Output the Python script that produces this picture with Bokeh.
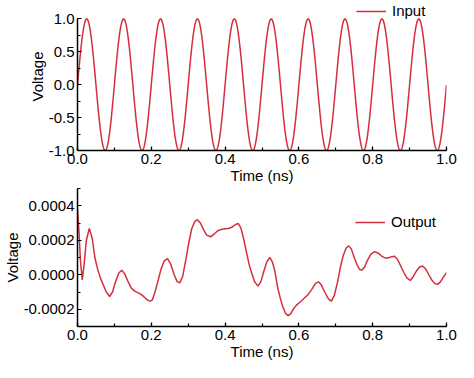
import numpy as np
from bokeh.plotting import figure
from bokeh.models import (Range1d, SingleIntervalTicker, PrintfTickFormatter,
                          Legend, LegendItem)
from bokeh.layouts import column
from bokeh.embed import file_html
from bokeh.resources import INLINE

# ---- data ----
# Input: a pure sine wave (read: amplitude 1.0 V, 10 periods per ns)
input_amplitude = 1.0
input_freq_ghz = 10.0
input_t = np.linspace(0.0, 1.0, 1201)

# Output: values (time in ns, voltage in 1e-4 V)
out_t = [0.000, 0.004, 0.008, 0.013, 0.018, 0.024, 0.032, 0.040, 0.047, 0.054,
         0.062, 0.070, 0.078, 0.087, 0.095, 0.103, 0.112, 0.120, 0.128, 0.136,
         0.145, 0.155, 0.165, 0.175, 0.185, 0.192, 0.197, 0.203, 0.210, 0.218,
         0.226, 0.235, 0.244, 0.252, 0.262, 0.270, 0.277, 0.285, 0.293, 0.302,
         0.310, 0.318, 0.325, 0.333, 0.342, 0.350, 0.361, 0.370, 0.380, 0.390,
         0.400, 0.409, 0.418, 0.427, 0.436, 0.443, 0.450, 0.458, 0.465, 0.472,
         0.480, 0.489, 0.497, 0.505, 0.513, 0.521, 0.528, 0.535, 0.543, 0.550,
         0.557, 0.564, 0.571, 0.578, 0.586, 0.595, 0.605, 0.615, 0.625, 0.635,
         0.645, 0.653, 0.661, 0.670, 0.680, 0.688, 0.696, 0.705, 0.713, 0.720,
         0.728, 0.735, 0.742, 0.750, 0.758, 0.765, 0.771, 0.778, 0.786, 0.795,
         0.805, 0.815, 0.825, 0.835, 0.845, 0.852, 0.859, 0.867, 0.875, 0.885,
         0.893, 0.902, 0.910, 0.918, 0.927, 0.935, 0.943, 0.952, 0.960, 0.968,
         0.976, 0.984, 0.992, 1.000]
out_v_e4 = [3.8, 2.5, 0.8, -0.3, 0.6, 2.0, 2.68, 2.1, 1.0, 0.37,
            -0.18, -0.6, -1.0, -1.26, -1.0, -0.4, 0.1, 0.26, 0.05, -0.35,
            -0.75, -0.95, -1.05, -1.18, -1.38, -1.5, -1.53, -1.45, -1.0, -0.37,
            0.3, 0.8, 0.93, 0.65, 0.0, -0.4, -0.47, -0.1, 0.8, 1.9,
            2.7, 3.1, 3.19, 3.0, 2.6, 2.3, 2.2, 2.35, 2.55, 2.63,
            2.66, 2.68, 2.75, 2.9, 2.97, 2.7, 2.1, 1.3, 0.6, 0.1,
            -0.4, -0.66, -0.4, 0.2, 0.75, 1.0, 0.75, 0.2, -0.8, -1.4,
            -1.9, -2.25, -2.37, -2.25, -1.95, -1.73, -1.55, -1.35, -1.14, -0.85,
            -0.5, -0.41, -0.6, -1.0, -1.4, -1.53, -1.2, -0.4, 0.5, 1.1,
            1.55, 1.67, 1.5, 1.0, 0.55, 0.3, 0.27, 0.45, 0.85, 1.2,
            1.34, 1.25, 1.07, 0.96, 1.0, 1.05, 1.07, 0.9, 0.55, 0.1,
            -0.2, -0.33, -0.1, 0.2, 0.45, 0.51, 0.35, 0.0, -0.3, -0.5,
            -0.56, -0.4, -0.12, 0.12]

input_v = input_amplitude * np.sin(2 * np.pi * input_freq_ghz * input_t)
out_v = [v * 1e-4 for v in out_v_e4]

LINE_COLOR = "#d42e3c"
FONT = "Liberation Sans"
FS = "15px"
W = 458
BL = 72
BR = 12
FRAME_W = W - BL - BR


def style(p, y_interval, y_fmt):
    p.outline_line_color = None
    p.xgrid.visible = False
    p.ygrid.visible = False
    p.background_fill_color = "white"
    p.border_fill_color = "white"
    p.xaxis.ticker = SingleIntervalTicker(interval=0.2, num_minor_ticks=2)
    p.yaxis.ticker = SingleIntervalTicker(interval=y_interval, num_minor_ticks=2)
    p.xaxis.formatter = PrintfTickFormatter(format="%.1f")
    p.yaxis.formatter = PrintfTickFormatter(format=y_fmt)
    for ax in (p.xaxis[0], p.yaxis[0]):
        ax.axis_line_color = "black"
        ax.axis_line_width = 1.5
        ax.major_tick_line_color = "black"
        ax.minor_tick_line_color = "black"
        ax.major_tick_line_width = 1.2
        ax.minor_tick_line_width = 1.2
        ax.major_tick_in = 4
        ax.major_tick_out = 0
        ax.minor_tick_in = 3
        ax.minor_tick_out = 0
        ax.major_label_text_font = FONT
        ax.major_label_text_font_size = FS
        ax.major_label_text_color = "black"
        ax.axis_label_text_font = FONT
        ax.axis_label_text_font_size = FS
        ax.axis_label_text_font_style = "normal"
        ax.axis_label_text_color = "black"
        ax.axis_label_standoff = 0
        ax.major_label_standoff = 3
    p.xaxis.axis_label = "Time (ns)"
    p.yaxis.axis_label = "Voltage"


def make_legend(p, r, label, loc, label_width=20):
    leg = Legend(items=[LegendItem(label=label, renderers=[r])], location=loc)
    leg.background_fill_alpha = 0
    leg.border_line_color = None
    leg.padding = 0
    leg.margin = 0
    leg.glyph_width = 30
    leg.glyph_height = 16
    leg.label_height = 16
    leg.label_width = label_width
    leg.label_standoff = 6
    leg.label_text_font = FONT
    leg.label_text_font_size = FS
    leg.label_text_color = "black"
    p.add_layout(leg)


# ---- top figure (frame extends above 1.0 to hold the legend) ----
TOP_H = 186
p1 = figure(width=W, height=TOP_H, output_backend="svg", toolbar_location=None,
            x_range=Range1d(0, 1), y_range=Range1d(-1, 1.25),
            min_border_left=BL, min_border_right=BR, min_border_top=2,
            min_border_bottom=36)
r1 = p1.line(input_t, input_v, line_color=LINE_COLOR, line_width=1.5)
style(p1, 0.5, "%.1f")
p1.yaxis.bounds = (-1, 1)
make_legend(p1, r1, "Input", "top_right", label_width=54)

# ---- bottom figure ----
BOT_H = 176
BOT_FRAME_H = BOT_H - 2 - 36
p2 = figure(width=W, height=BOT_H, output_backend="svg", toolbar_location=None,
            x_range=Range1d(0, 1), y_range=Range1d(-0.0003, 0.0005),
            min_border_left=BL, min_border_right=BR, min_border_top=2,
            min_border_bottom=36)
r2 = p2.line(out_t, out_v, line_color=LINE_COLOR, line_width=1.5)
style(p2, 0.0002, "%.4f")
make_legend(p2, r2, "Output", (FRAME_W - 96, BOT_FRAME_H - 34 - 8))

layout = column(p1, p2)
open("out.html", "w").write(file_html(layout, INLINE))
